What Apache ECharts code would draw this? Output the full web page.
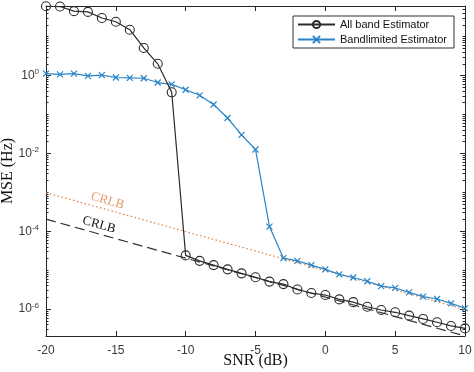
<!DOCTYPE html>
<html>
<head>
<meta charset="utf-8">
<script src="https://cdn.jsdelivr.net/npm/echarts@6/dist/echarts.min.js"></script>
<style>
html,body{margin:0;padding:0;background:#fff;}
#chart{width:474px;height:372px;}
</style>
</head>
<body>
<div id="chart"></div>
<script>
// ---- data ----
const snr = [-20,-19,-18,-17,-16,-15,-14,-13,-12,-11,-10,-9,-8,-7,-6,-5,-4,-3,-2,-1,0,1,2,3,4,5,6,7,8,9,10];
const allBand = [60,59,45,43,30,24,15,5.1,2.0,0.37,
  2.4e-5,1.74e-5,1.35e-5,1.05e-5,8.3e-6,6.6e-6,5.1e-6,4.4e-6,3.2e-6,2.6e-6,
  2.3e-6,1.78e-6,1.51e-6,1.15e-6,9.5e-7,8.3e-7,6.8e-7,5.6e-7,4.6e-7,3.7e-7,3.2e-7];
const bandLimited = [1.12,1.07,1.12,0.98,1.02,0.89,0.87,0.85,0.66,0.59,
  0.43,0.31,0.18,0.081,0.030,0.0126,1.32e-4,2.04e-5,1.74e-5,1.35e-5,
  1.05e-5,7.8e-6,6.5e-6,5.2e-6,3.9e-6,3.5e-6,2.7e-6,2.1e-6,1.82e-6,1.41e-6,1.05e-6];
const crlbX = [-20, 10];
const crlbBlack = [2.04e-4, 2.04e-7];
const crlbOrange = [9.8e-4, 9.8e-7];
const xTicks = [-20,-15,-10,-5,0,5,10];
const yMajorExp = [-6,-4,-2,0];
const yRangeExp = [-6.69, 1.785];
const legendNames = ['All band Estimator','Bandlimited Estimator'];
const crlbLabel = 'CRLB';
const crlbOrangeLabelAt = [-15.6, 6.0e-4];
const crlbBlackLabelAt = [-16.2, 1.45e-4];

// ---- build ----
const lg = v => Math.log10(v);
const pairs = (xs, ys) => xs.map((x,i)=>[x, lg(ys[i])]);
const minorTicks = [];
for (let n = -7; n <= 1; n++) {
  for (let k = 1; k <= 9; k++) {
    const v = n + Math.log10(k);
    if (k === 1 && n % 2 === 0) continue;
    if (v >= yRangeExp[0] && v <= yRangeExp[1]) minorTicks.push(v);
  }
}
const AX = '#262626';
const blue = '#2a84c8';
const dark = '#2b2b2b';
const orange = '#DF7D3E';

function xAxisDef(pos, showLabel) {
  return {
    type:'value', min:xTicks[0], max:xTicks[xTicks.length-1], interval:5, position:pos,
    axisLine:{show:true,onZero:false,lineStyle:{color:AX,width:1}},
    axisTick:{show:true,inside:true,length:5,lineStyle:{color:AX}},
    axisLabel:{show:showLabel,color:'#3a3a3a',fontSize:12,fontFamily:'Liberation Sans, Arial',margin:9},
    splitLine:{show:false},
    name: showLabel ? 'SNR (dB)' : '',
    nameLocation:'middle', nameGap:17, nameMoveOverlap:false,
    nameTextStyle:{fontFamily:'Liberation Serif, Times New Roman',fontSize:16,color:'#111',verticalAlign:'top'}
  };
}
function yAxisDef(pos, major, withLabel) {
  return {
    type:'value', min:yRangeExp[0], max:yRangeExp[1], position:pos,
    axisLine:{show:major,onZero:false,lineStyle:{color:AX,width:1}},
    axisTick:{show:true,inside:true,length: major?5:2.5,customValues: major?yMajorExp:minorTicks,lineStyle:{color:AX}},
    axisLabel:{show:withLabel, customValues:yMajorExp, margin:7,
      formatter: v => '{b|10}{s|' + v + '}',
      rich:{
        b:{fontSize:12,fontFamily:'Liberation Sans, Arial',color:'#3a3a3a'},
        s:{fontSize:8,fontFamily:'Liberation Sans, Arial',color:'#3a3a3a',padding:[0,0,7,0]}
      }},
    splitLine:{show:false},
    name: withLabel ? 'MSE (Hz)' : '',
    nameLocation:'middle', nameGap:30, nameMoveOverlap:false,
    nameTextStyle:{fontFamily:'Liberation Serif, Times New Roman',fontSize:16,color:'#111'}
  };
}

const chart = echarts.init(document.getElementById('chart'), null, {renderer:'canvas'});
chart.setOption({
  animation:false,
  backgroundColor:'#fff',
  grid:{left:46,right:9,top:6,bottom:36,outerBoundsMode:'none'},
  xAxis:[xAxisDef('bottom',true), xAxisDef('top',false)],
  yAxis:[yAxisDef('left',true,true), yAxisDef('left',false,false), yAxisDef('right',true,false), yAxisDef('right',false,false)],
  legend:{
    data:legendNames, orient:'vertical', left:293, top:16,
    itemWidth:37, itemHeight:9, itemGap:4, padding:[3,7,3,4],
    borderColor:'#333', borderWidth:1, backgroundColor:'#fff',
    textStyle:{fontFamily:'Liberation Sans, Arial',fontSize:11,color:'#111'}
  },
  series:[
    {
      name:'CRLB-o', type:'line', data:pairs(crlbX, crlbOrange), showSymbol:false, silent:true, z:1,
      lineStyle:{type:[1.5,2.5],color:orange,width:1.2},
      markPoint:{symbol:'circle',symbolSize:1,itemStyle:{color:'rgba(0,0,0,0)'},silent:true,
        label:{show:true,formatter:crlbLabel,position:'inside',rotate:-16,color:'#E39A68',fontFamily:'Liberation Serif',fontSize:13},
        data:[{coord:[crlbOrangeLabelAt[0], lg(crlbOrangeLabelAt[1])]}]}
    },
    {
      name:'CRLB-k', type:'line', data:pairs(crlbX, crlbBlack), showSymbol:false, silent:true, z:1,
      lineStyle:{type:[10,5],color:'#333',width:1.2},
      markPoint:{symbol:'circle',symbolSize:1,itemStyle:{color:'rgba(0,0,0,0)'},silent:true,
        label:{show:true,formatter:crlbLabel,position:'inside',rotate:-16,color:'#111',fontFamily:'Liberation Serif',fontSize:13},
        data:[{coord:[crlbBlackLabelAt[0], lg(crlbBlackLabelAt[1])]}]}
    },
    {
      name:legendNames[1], type:'line', data:pairs(snr, bandLimited), z:3,
      symbol:'path://M0,0L10,10M10,0L0,10', symbolSize:6,
      lineStyle:{color:blue,width:1.2},
      itemStyle:{color:blue,borderColor:blue,borderWidth:1.2}
    },
    {
      name:legendNames[0], type:'line', data:pairs(snr, allBand), z:4,
      symbol:'circle', symbolSize:9,
      lineStyle:{color:dark,width:1.2},
      itemStyle:{color:'rgba(0,0,0,0)',borderColor:dark,borderWidth:1.1}
    }
  ]
});
</script>
</body>
</html>
